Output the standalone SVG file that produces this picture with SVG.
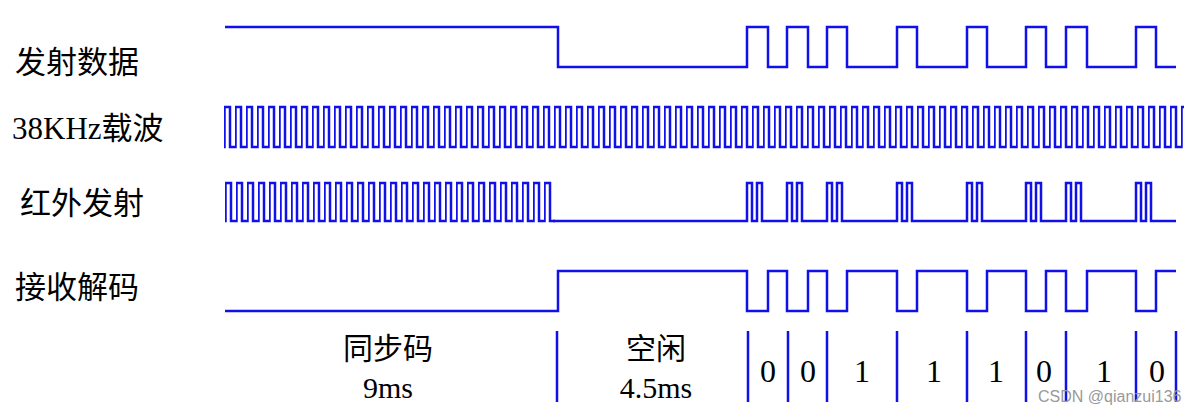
<svg xmlns="http://www.w3.org/2000/svg" width="1193" height="413" viewBox="0 0 1193 413">
<style>
.w{fill:none;stroke:#1010e8;stroke-width:2.5}
.lb{font-family:"Liberation Serif","Noto Sans CJK SC",serif;font-size:31px;fill:#000}
.d{font-family:"Liberation Serif",serif;font-size:32px;fill:#000;text-anchor:middle}
.c{font-family:"Liberation Serif","Noto Sans CJK SC",serif;font-size:30px;fill:#000;text-anchor:middle}
</style>
<defs>
<pattern id="car" patternUnits="userSpaceOnUse" x="224" y="105" width="11" height="44"><path class="w" d="M-0.5,42 H0.5 V2 H6 V42 H11.5"/></pattern>
<pattern id="ir" patternUnits="userSpaceOnUse" x="225" y="181" width="11" height="44"><path class="w" d="M-0.5,40 H0.5 V2 H6 V40 H11.5"/></pattern>
</defs>
<g id="labels">
<text class="lb" x="15" y="73">发射数据</text>
<text class="lb" x="12" y="139">38KHz载波</text>
<text class="lb" x="20" y="214">红外发射</text>
<text class="lb" x="15" y="298">接收解码</text>
</g>
<g id="waves">
<path id="data" class="w" d="M225,27 H558 V67 H747 V27 H768 V67 H787 V27 H808 V67 H827 V27 H847 V67 H897 V27 H917 V67 H967 V27 H987 V67 H1026 V27 H1046 V67 H1066 V27 H1087 V67 H1136 V27 H1156 V67 H1176"/>
<rect id="carrier" x="224" y="105" width="960" height="44" fill="url(#car)"/>
<rect id="irsync" x="225" y="181" width="330" height="44" fill="url(#ir)"/>
<path id="irdata" class="w" d="M553,221 H747 V183 H752 V221 H757 V183 H762 V221 H768 H787 V183 H792 V221 H797 V183 H802 V221 H808 H827 V183 H832 V221 H837 V183 H842 V221 H847 H897 V183 H902 V221 H907 V183 H912 V221 H917 H967 V183 H972 V221 H977 V183 H982 V221 H987 H1026 V183 H1031 V221 H1036 V183 H1041 V221 H1046 H1066 V183 H1071 V221 H1076 V183 H1081 V221 H1087 H1136 V183 H1141 V221 H1146 V183 H1151 V221 H1156 H1176"/>
<path id="decode" class="w" d="M225,311 H558 V271 H747 V311 H768 V271 H787 V311 H808 V271 H827 V311 H847 V271 H897 V311 H917 V271 H967 V311 H987 V271 H1026 V311 H1046 V271 H1066 V311 H1087 V271 H1136 V311 H1156 V271 H1176"/>
</g>
<g id="markers" class="w">
<path d="M557,331 V402 M748,331 V402 M788,331 V402 M827,331 V402 M897,331 V402 M967,331 V402 M1026,331 V402 M1066,331 V402 M1136,331 V402 M1176,331 V402"/>
</g>
<g id="texts">
<text class="c" x="388" y="359">同步码</text>
<text class="c" x="388" y="398">9ms</text>
<text class="c" x="656" y="359">空闲</text>
<text class="c" x="656" y="398">4.5ms</text>
<text class="d" x="768" y="382">0</text>
<text class="d" x="808" y="382">0</text>
<text class="d" x="862" y="382">1</text>
<text class="d" x="934" y="382">1</text>
<text class="d" x="996" y="382">1</text>
<text class="d" x="1044" y="382">0</text>
<text class="d" x="1104" y="382">1</text>
<text class="d" x="1157" y="382">0</text>
<text x="1038" y="402" font-family="Liberation Sans,sans-serif" font-size="16" fill="#999">CSDN @qianzui136</text>
</g>
</svg>
